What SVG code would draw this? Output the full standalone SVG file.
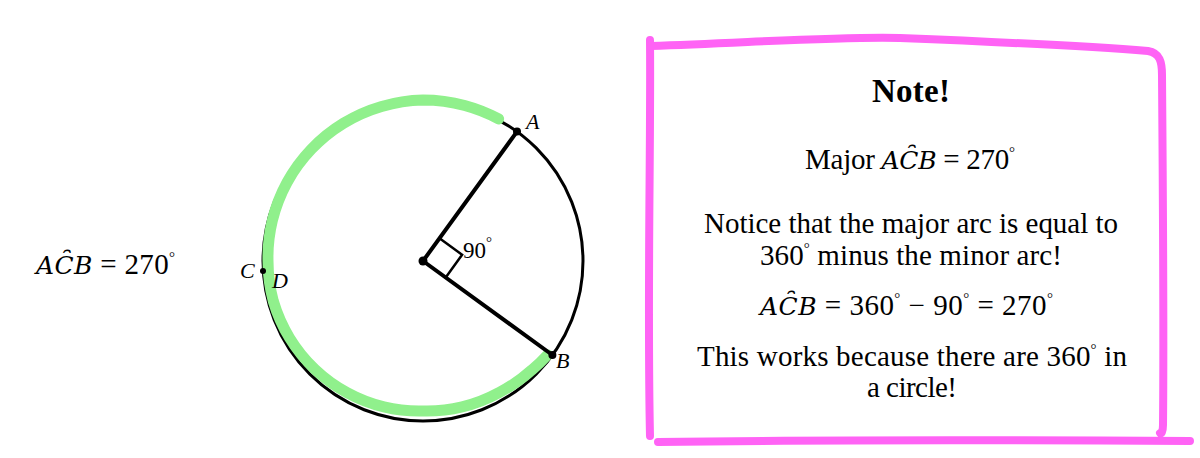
<svg xmlns="http://www.w3.org/2000/svg" width="1200" height="458" viewBox="0 0 1200 458">
<style>
.t{font-family:"Liberation Serif","DejaVu Serif",serif;fill:#000}
.n{font-size:29px}
.m{font-style:italic;font-family:"DejaVu Serif","Liberation Serif",serif;font-size:25px}
.lb{font-size:22px;font-style:italic}
.deg{font-size:15px}
.pink{fill:none;stroke:#ff63f5;stroke-width:8;stroke-linecap:round;stroke-linejoin:round}
</style>
<rect width="1200" height="458" fill="#fff"/>
<g id="circle-diagram">
  <circle cx="423" cy="261" r="160" fill="none" stroke="#000" stroke-width="3"/>
  <path d="M498.6,118.9 A161,161 0 0 0 464.7,105.5 A161,161 0 0 0 423,100 A160,160 0 0 0 381.6,106.5 A159,159 0 0 0 343.5,123.3 A158,158 0 0 0 311.3,149.3 A157,157 0 0 0 287,182.5 A156,156 0 0 0 272.3,220.6 A155,155 0 0 0 268,261 A155,155 0 0 0 273.3,301.1 A154,154 0 0 0 289.6,338 A153,153 0 0 0 314.8,369.2 A152,152 0 0 0 347,392.6 A151,151 0 0 0 383.9,406.9 A150,150 0 0 0 423,411 A151,151 0 0 0 462.1,406.9 A152,152 0 0 0 499,392.6 A154,154 0 0 0 531.9,369.9 A156,156 0 0 0 547.6,354.9" fill="none" stroke="#90f08c" stroke-width="11" stroke-linecap="round" stroke-linejoin="round"/>
</g>
<g id="connectors" stroke="#000" stroke-linecap="round">
  <line x1="423" y1="261" x2="517" y2="131.6" stroke-width="4"/>
  <line x1="423" y1="261" x2="552.4" y2="355" stroke-width="4"/>
  <polyline points="439.5,238.3 462.1,254.8 445.7,277.5" fill="none" stroke-width="2.5"/>
</g>
<g id="point-O"><circle cx="423" cy="261" r="4.5" fill="#000"/></g>
<g id="point-A"><circle cx="517" cy="131.6" r="4" fill="#000"/><text class="t lb" x="526" y="129">A</text></g>
<g id="point-B"><circle cx="552.4" cy="355" r="4" fill="#000"/><text class="t lb" x="556" y="368">B</text></g>
<g id="point-C"><circle cx="263" cy="271" r="3" fill="#000"/><text class="t lb" x="240" y="278">C</text><text class="t lb" x="272" y="288">D</text></g>
<g id="angle-label"><text class="t" x="463" y="258" font-size="23">90<tspan class="deg" dy="-11">°</tspan></text></g>
<g id="left-label"><text class="t n" x="36" y="274" textLength="139" lengthAdjust="spacing"><tspan class="m">AC&#x311;B</tspan> = 270<tspan class="deg" dy="-12">°</tspan></text></g>
<g id="note-box">
  <path class="pink" d="M650,40 C651,140 647,300 650,436"/>
  <path class="pink" d="M651,46 C760,42 850,36 900,38 C1000,42 1100,47 1148,51 C1160,53 1162,62 1162,75 C1163,200 1164,330 1163,425 C1163,432 1161,435 1160,433"/>
  <path class="pink" d="M658,442 C800,440 1000,440 1190,441"/>
  <text class="t" x="872" y="102" font-size="33" font-weight="bold" textLength="78" lengthAdjust="spacing">Note!</text>
  <text class="t n" x="805" y="169" textLength="210" lengthAdjust="spacing">Major <tspan class="m">AC&#x311;B</tspan> = 270<tspan class="deg" dy="-12">°</tspan></text>
  <text class="t n" x="704" y="233" textLength="414" lengthAdjust="spacing">Notice that the major arc is equal to</text>
  <text class="t n" x="760" y="265" textLength="302" lengthAdjust="spacing">360<tspan class="deg" dy="-12">°</tspan><tspan dy="12"> minus the minor arc!</tspan></text>
  <text class="t n" x="760" y="315" textLength="293" lengthAdjust="spacing"><tspan class="m">AC&#x311;B</tspan> = 360<tspan class="deg" dy="-12">°</tspan><tspan dy="12"> − 90</tspan><tspan class="deg" dy="-12">°</tspan><tspan dy="12"> = 270</tspan><tspan class="deg" dy="-12">°</tspan></text>
  <text class="t n" x="697" y="366" textLength="430" lengthAdjust="spacing">This works because there are 360<tspan class="deg" dy="-12">°</tspan><tspan dy="12"> in</tspan></text>
  <text class="t n" x="867" y="397" textLength="90" lengthAdjust="spacing">a circle!</text>
</g>
</svg>
